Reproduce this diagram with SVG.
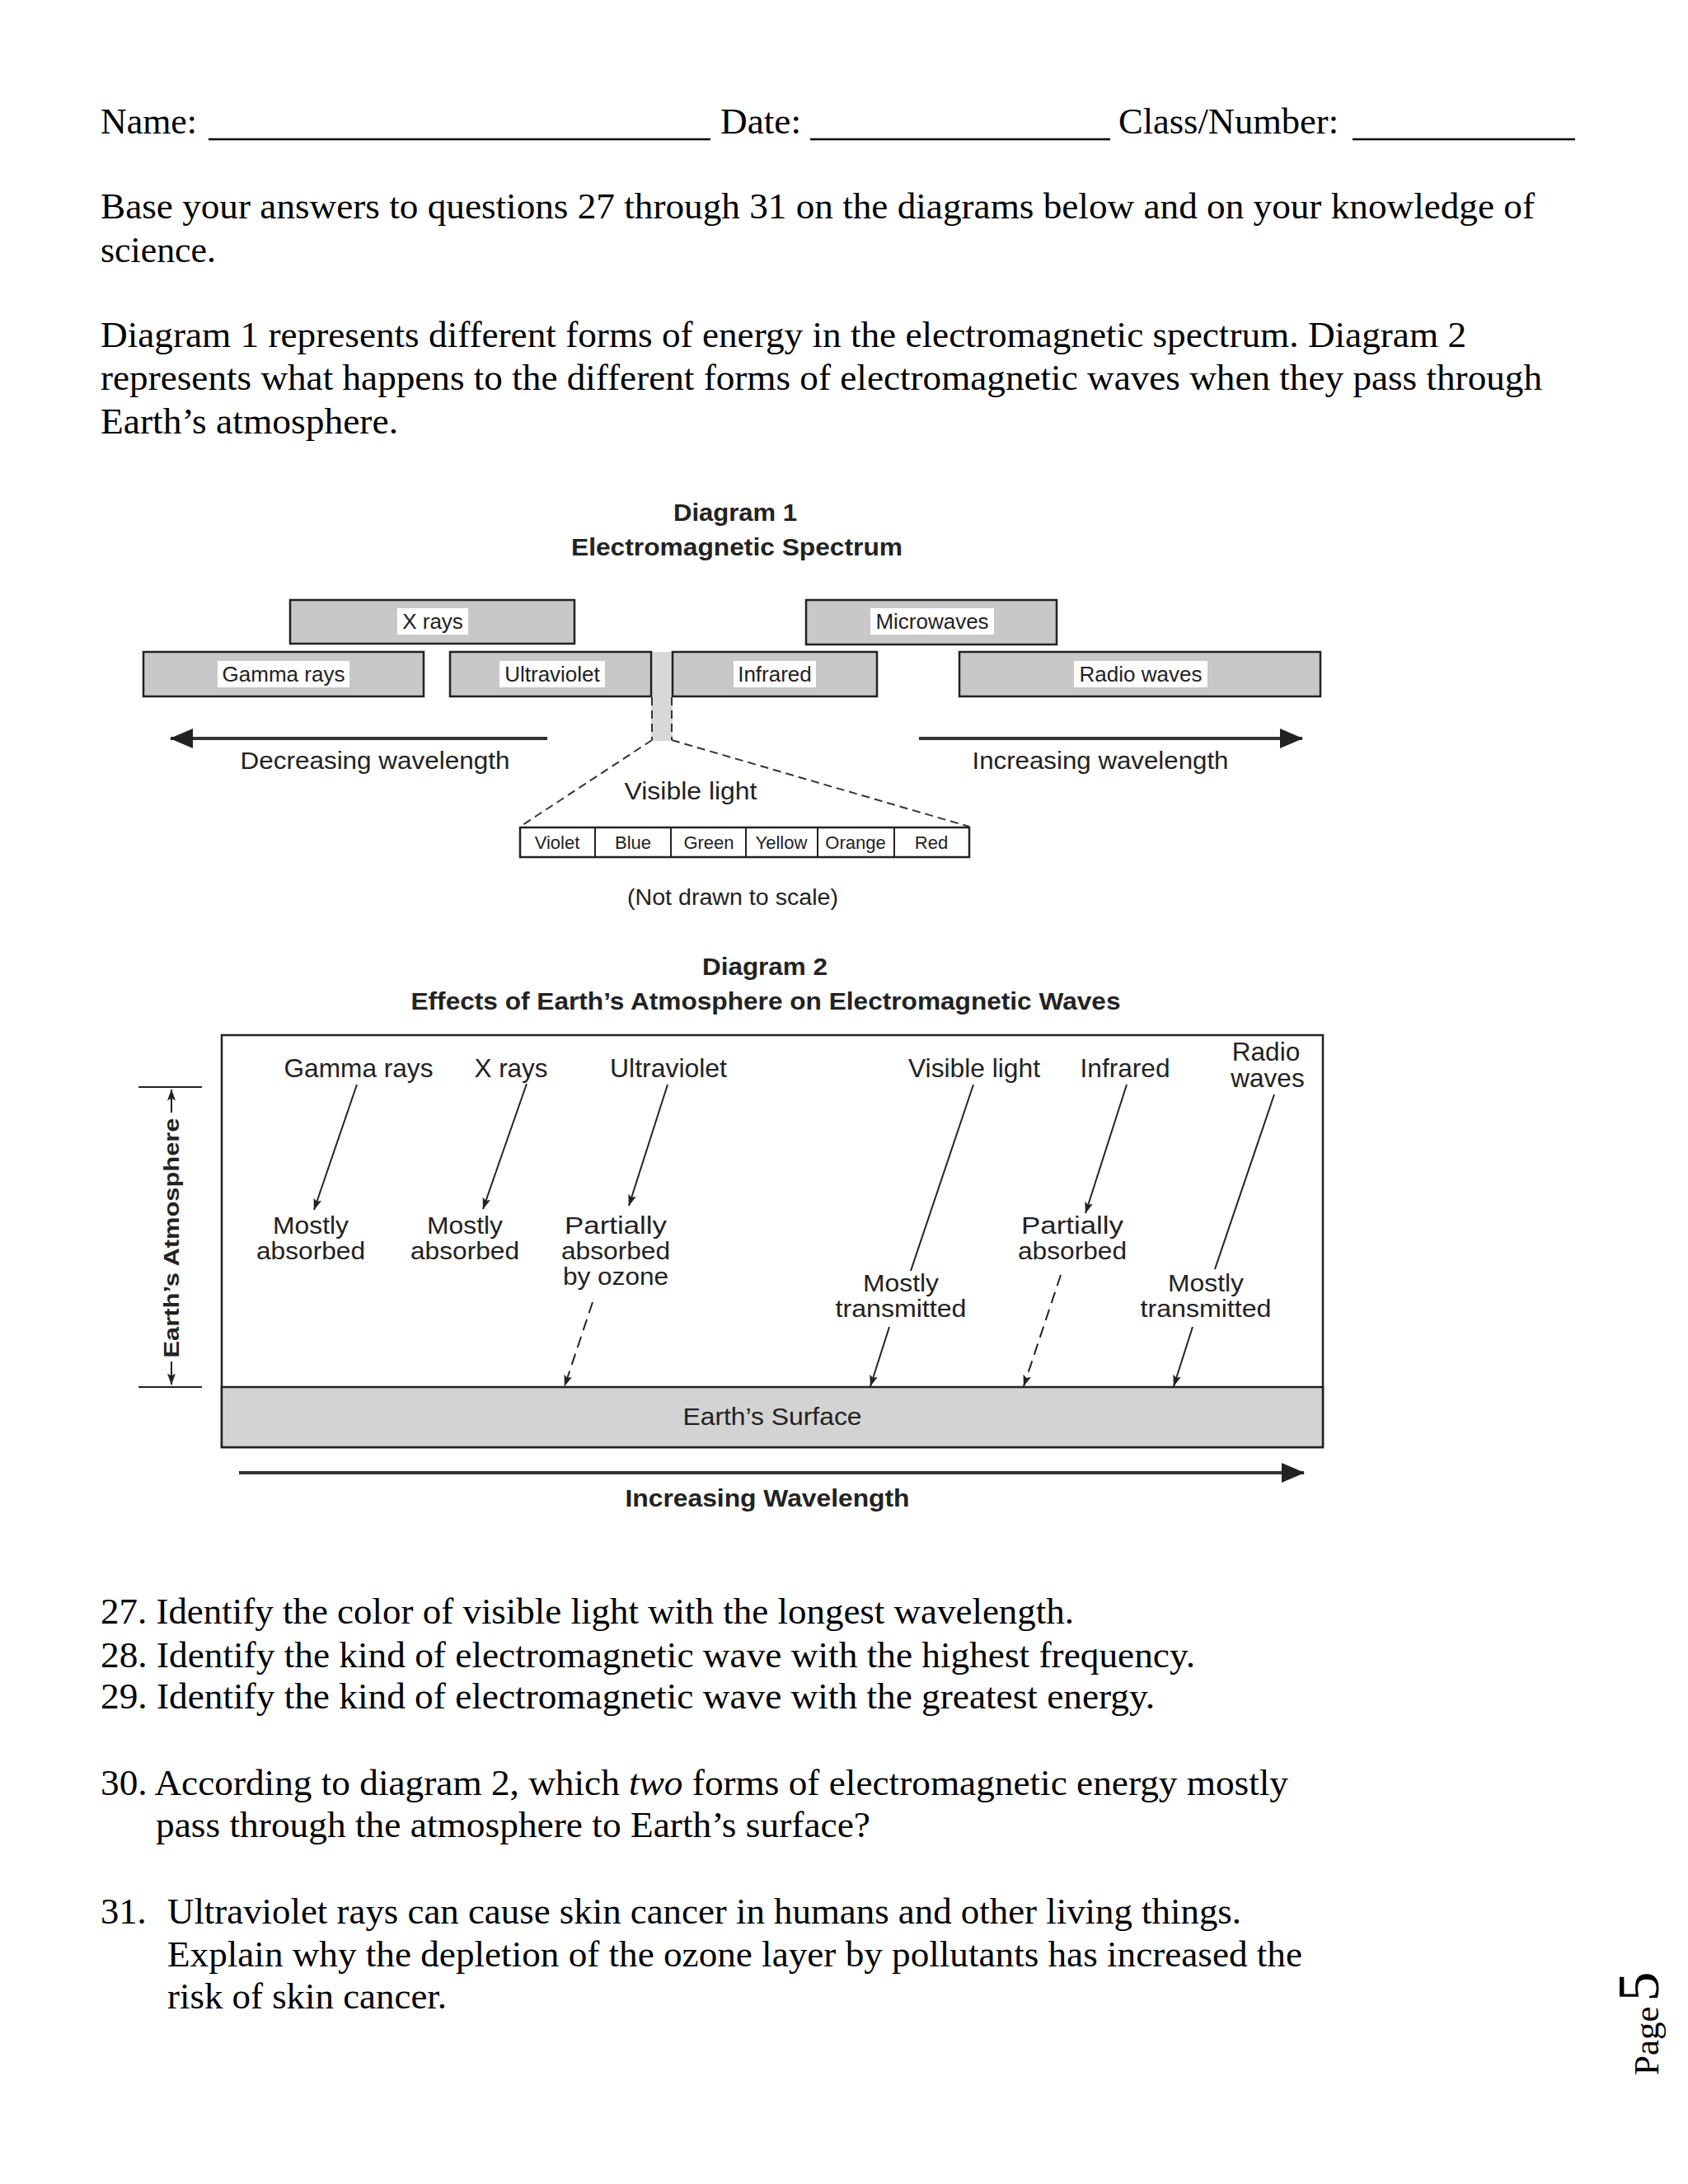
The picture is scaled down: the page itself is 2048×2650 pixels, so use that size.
<svg xmlns="http://www.w3.org/2000/svg" width="2048" height="2650" viewBox="0 0 2048 2650">
<style>
.serif{font-family:"Liberation Serif","Times New Roman",serif;font-size:44.5px;fill:#000}
.sans{font-family:"Liberation Sans",Arial,sans-serif;fill:#222}
.b{font-weight:bold}
.f26{font-size:26px}
.f22{font-size:22px}
.f27{font-size:27px}
.f30{font-size:30px}
.f31{font-size:31.5px}
.res{font-size:29px}
.mid{text-anchor:middle}
.box{fill:#c8c8c8;stroke:#222;stroke-width:2.5}
.lblbg{fill:#fff}
.uline{stroke:#000;stroke-width:2.5}
.ln{stroke:#222;stroke-width:2;fill:none}
.dash{stroke:#222;stroke-width:2;fill:none;stroke-dasharray:14 8}
.fan{stroke:#333;stroke-width:2;fill:none;stroke-dasharray:10 6}
.big{stroke:#333;stroke-width:4;fill:none}
</style>
<defs>
<marker id="bigArrow" markerUnits="userSpaceOnUse" viewBox="0 0 28 24" markerWidth="28" markerHeight="24" refX="27" refY="12" orient="auto">
<path d="M0,0 L28,12 L0,24 z" fill="#222"/>
</marker>
<marker id="smallArrow" markerUnits="userSpaceOnUse" viewBox="0 0 14 10" markerWidth="14" markerHeight="10" refX="13.5" refY="5" orient="auto">
<path d="M0,0 L14,5 L0,10 L3,5 z" fill="#222"/>
</marker>
</defs>
<rect x="0" y="0" width="2048" height="2650" fill="#fff"/>

<g id="header">
<text class="serif" x="122" y="162" textLength="117" lengthAdjust="spacingAndGlyphs">Name:</text>
<line class="uline" x1="253" y1="169" x2="862" y2="169"/>
<text class="serif" x="874" y="162" textLength="98" lengthAdjust="spacingAndGlyphs">Date:</text>
<line class="uline" x1="983" y1="169" x2="1347" y2="169"/>
<text class="serif" x="1357" y="162" textLength="267" lengthAdjust="spacingAndGlyphs">Class/Number:</text>
<line class="uline" x1="1641" y1="169" x2="1911" y2="169"/>
</g>

<g id="intro">
<text class="serif" x="122" y="265" textLength="1740" lengthAdjust="spacingAndGlyphs">Base your answers to questions 27 through 31 on the diagrams below and on your knowledge of</text>
<text class="serif" x="122" y="318" textLength="140" lengthAdjust="spacingAndGlyphs">science.</text>
<text class="serif" x="122" y="421" textLength="1657" lengthAdjust="spacingAndGlyphs">Diagram 1 represents different forms of energy in the electromagnetic spectrum. Diagram 2</text>
<text class="serif" x="122" y="473" textLength="1749" lengthAdjust="spacingAndGlyphs">represents what happens to the different forms of electromagnetic waves when they pass through</text>
<text class="serif" x="122" y="526" textLength="361" lengthAdjust="spacingAndGlyphs">Earth’s atmosphere.</text>
</g>

<g id="diagram1-title">
<text class="sans b f30 mid" x="892" y="632" textLength="150" lengthAdjust="spacingAndGlyphs">Diagram 1</text>
<text class="sans b f30 mid" x="894" y="674" textLength="402" lengthAdjust="spacingAndGlyphs">Electromagnetic Spectrum</text>
</g>

<g id="visible-strip">
<rect x="790" y="791" width="26" height="108" fill="#d8d8d8"/>
<line class="fan" x1="791" y1="846" x2="791" y2="898"/>
<line class="fan" x1="815" y1="846" x2="815" y2="898"/>
</g>

<g id="box-xrays">
<rect class="box" x="352" y="728" width="345" height="53"/>
<rect class="lblbg" x="482" y="738" width="86" height="32"/>
<text class="sans f26 mid" x="525" y="763">X rays</text>
</g>
<g id="box-microwaves">
<rect class="box" x="978" y="728" width="304" height="54"/>
<rect class="lblbg" x="1056" y="738" width="150" height="32"/>
<text class="sans f26 mid" x="1131" y="763">Microwaves</text>
</g>
<g id="box-gamma">
<rect class="box" x="174" y="791" width="340" height="54"/>
<rect class="lblbg" x="264" y="802" width="160" height="32"/>
<text class="sans f26 mid" x="344" y="827">Gamma rays</text>
</g>
<g id="box-ultraviolet">
<rect class="box" x="546" y="791" width="244" height="54"/>
<rect class="lblbg" x="606" y="802" width="128" height="32"/>
<text class="sans f26 mid" x="670" y="827">Ultraviolet</text>
</g>
<g id="box-infrared">
<rect class="box" x="816" y="791" width="248" height="54"/>
<rect class="lblbg" x="890" y="802" width="100" height="32"/>
<text class="sans f26 mid" x="940" y="827">Infrared</text>
</g>
<g id="box-radio">
<rect class="box" x="1164" y="791" width="438" height="54"/>
<rect class="lblbg" x="1303" y="802" width="162" height="32"/>
<text class="sans f26 mid" x="1384" y="827">Radio waves</text>
</g>

<g id="wavelength-labels">
<text class="sans f30 mid" x="455" y="933" textLength="327" lengthAdjust="spacingAndGlyphs">Decreasing wavelength</text>
<text class="sans f30 mid" x="1335" y="933" textLength="311" lengthAdjust="spacingAndGlyphs">Increasing wavelength</text>
<text class="sans f30 mid" x="838" y="970" textLength="161" lengthAdjust="spacingAndGlyphs">Visible light</text>
<text class="sans f27 mid" x="889" y="1098" textLength="256" lengthAdjust="spacingAndGlyphs">(Not drawn to scale)</text>
</g>

<g id="visible-colors">
<rect x="631" y="1004" width="545" height="36" fill="#fff" stroke="#222" stroke-width="2.5"/>
<line class="ln" x1="722" y1="1004" x2="722" y2="1040"/>
<line class="ln" x1="814" y1="1004" x2="814" y2="1040"/>
<line class="ln" x1="905" y1="1004" x2="905" y2="1040"/>
<line class="ln" x1="992" y1="1004" x2="992" y2="1040"/>
<line class="ln" x1="1085" y1="1004" x2="1085" y2="1040"/>
<text class="sans f22 mid" x="676" y="1030">Violet</text>
<text class="sans f22 mid" x="768" y="1030">Blue</text>
<text class="sans f22 mid" x="860" y="1030">Green</text>
<text class="sans f22 mid" x="948" y="1030">Yellow</text>
<text class="sans f22 mid" x="1038" y="1030">Orange</text>
<text class="sans f22 mid" x="1130" y="1030">Red</text>
</g>

<g id="diagram2-title">
<text class="sans b f30 mid" x="928" y="1183" textLength="152" lengthAdjust="spacingAndGlyphs">Diagram 2</text>
<text class="sans b f30 mid" x="929" y="1225" textLength="861" lengthAdjust="spacingAndGlyphs">Effects of Earth’s Atmosphere on Electromagnetic Waves</text>
</g>

<g id="atmosphere-box">
<rect x="269" y="1256" width="1336" height="500" fill="#fff" stroke="#222" stroke-width="2.5"/>
</g>
<g id="earth-surface">
<rect x="269" y="1683" width="1336" height="73" fill="#d3d3d3" stroke="#222" stroke-width="2.5"/>
<text class="sans f30 mid" x="937" y="1729" textLength="217" lengthAdjust="spacingAndGlyphs">Earth’s Surface</text>
</g>

<g id="atmosphere-scale">
<line class="ln" x1="168" y1="1319" x2="245" y2="1319" stroke-width="2.5"/>
<line class="ln" x1="168" y1="1683" x2="245" y2="1683" stroke-width="2.5"/>
<text class="sans b f26 mid" transform="translate(217,1502) rotate(-90)" x="0" y="0" textLength="291" lengthAdjust="spacingAndGlyphs">Earth’s Atmosphere</text>
</g>

<g id="wave-labels">
<text class="sans f31 mid" x="435" y="1307" textLength="181" lengthAdjust="spacingAndGlyphs">Gamma rays</text>
<text class="sans f31 mid" x="620" y="1307" textLength="89" lengthAdjust="spacingAndGlyphs">X rays</text>
<text class="sans f31 mid" x="811" y="1307" textLength="142" lengthAdjust="spacingAndGlyphs">Ultraviolet</text>
<text class="sans f31 mid" x="1182" y="1307" textLength="160" lengthAdjust="spacingAndGlyphs">Visible light</text>
<text class="sans f31 mid" x="1365" y="1307" textLength="109" lengthAdjust="spacingAndGlyphs">Infrared</text>
<text class="sans f31 mid" x="1536" y="1287">Radio</text>
<text class="sans f31 mid" x="1538" y="1319">waves</text>
</g>

<g id="result-labels">
<text class="sans res mid" x="377" y="1497" textLength="92" lengthAdjust="spacingAndGlyphs">Mostly</text>
<text class="sans res mid" x="377" y="1528" textLength="132" lengthAdjust="spacingAndGlyphs">absorbed</text>
<text class="sans res mid" x="564" y="1497" textLength="92" lengthAdjust="spacingAndGlyphs">Mostly</text>
<text class="sans res mid" x="564" y="1528" textLength="132" lengthAdjust="spacingAndGlyphs">absorbed</text>
<text class="sans res mid" x="747" y="1497" textLength="124" lengthAdjust="spacingAndGlyphs">Partially</text>
<text class="sans res mid" x="747" y="1528" textLength="132" lengthAdjust="spacingAndGlyphs">absorbed</text>
<text class="sans res mid" x="747" y="1559" textLength="128" lengthAdjust="spacingAndGlyphs">by ozone</text>
<text class="sans res mid" x="1093" y="1567" textLength="92" lengthAdjust="spacingAndGlyphs">Mostly</text>
<text class="sans res mid" x="1093" y="1598" textLength="159" lengthAdjust="spacingAndGlyphs">transmitted</text>
<text class="sans res mid" x="1301" y="1497" textLength="124" lengthAdjust="spacingAndGlyphs">Partially</text>
<text class="sans res mid" x="1301" y="1528" textLength="132" lengthAdjust="spacingAndGlyphs">absorbed</text>
<text class="sans res mid" x="1463" y="1567" textLength="92" lengthAdjust="spacingAndGlyphs">Mostly</text>
<text class="sans res mid" x="1463" y="1598" textLength="159" lengthAdjust="spacingAndGlyphs">transmitted</text>
</g>

<g id="diagram2-axis-label">
<text class="sans b f30 mid" x="931" y="1828" textLength="345" lengthAdjust="spacingAndGlyphs">Increasing Wavelength</text>
</g>

<g id="connectors">
<line class="big" x1="664" y1="896" x2="207" y2="896" stroke="#555" marker-end="url(#bigArrow)"/>
<line class="big" x1="1115" y1="896" x2="1580" y2="896" marker-end="url(#bigArrow)"/>
<line class="fan" x1="791" y1="898" x2="631" y2="1003"/>
<line class="fan" x1="815" y1="898" x2="1176" y2="1003"/>
<line class="big" x1="290" y1="1787" x2="1582" y2="1787" marker-end="url(#bigArrow)"/>
<line class="ln" x1="208" y1="1350" x2="208" y2="1322" marker-end="url(#smallArrow)"/>
<line class="ln" x1="208" y1="1652" x2="208" y2="1680" marker-end="url(#smallArrow)"/>
<line class="ln" x1="433" y1="1316" x2="381" y2="1468" marker-end="url(#smallArrow)"/>
<line class="ln" x1="639" y1="1315" x2="586" y2="1467" marker-end="url(#smallArrow)"/>
<line class="ln" x1="810" y1="1316" x2="763" y2="1463" marker-end="url(#smallArrow)"/>
<line class="dash" x1="719" y1="1580" x2="685" y2="1682" marker-end="url(#smallArrow)"/>
<line class="ln" x1="1181" y1="1316" x2="1105" y2="1542"/>
<line class="ln" x1="1079" y1="1610" x2="1056" y2="1682" marker-end="url(#smallArrow)"/>
<line class="ln" x1="1367" y1="1316" x2="1317" y2="1472" marker-end="url(#smallArrow)"/>
<line class="dash" x1="1287" y1="1547" x2="1242" y2="1682" marker-end="url(#smallArrow)"/>
<line class="ln" x1="1546" y1="1328" x2="1474" y2="1540"/>
<line class="ln" x1="1447" y1="1610" x2="1424" y2="1682" marker-end="url(#smallArrow)"/>
</g>

<g id="questions">
<text class="serif" x="122" y="1970" textLength="1181" lengthAdjust="spacingAndGlyphs">27. Identify the color of visible light with the longest wavelength.</text>
<text class="serif" x="122" y="2023" textLength="1328" lengthAdjust="spacingAndGlyphs">28. Identify the kind of electromagnetic wave with the highest frequency.</text>
<text class="serif" x="122" y="2073" textLength="1279" lengthAdjust="spacingAndGlyphs">29. Identify the kind of electromagnetic wave with the greatest energy.</text>
<text class="serif" x="122" y="2178" textLength="1441" lengthAdjust="spacingAndGlyphs">30. According to diagram 2, which <tspan font-style="italic">two</tspan> forms of electromagnetic energy mostly</text>
<text class="serif" x="189" y="2229" textLength="867" lengthAdjust="spacingAndGlyphs">pass through the atmosphere to Earth’s surface?</text>
<text class="serif" x="122" y="2334">31.</text>
<text class="serif" x="203" y="2334" textLength="1303" lengthAdjust="spacingAndGlyphs">Ultraviolet rays can cause skin cancer in humans and other living things.</text>
<text class="serif" x="203" y="2386" textLength="1377" lengthAdjust="spacingAndGlyphs">Explain why the depletion of the ozone layer by pollutants has increased the</text>
<text class="serif" x="203" y="2437" textLength="339" lengthAdjust="spacingAndGlyphs">risk of skin cancer.</text>
</g>

<g id="page-number">
<text transform="translate(2012,2518) rotate(-90)" style="font-family:'Liberation Serif','Times New Roman',serif;fill:#000"><tspan font-size="43">Page</tspan><tspan font-size="72" dx="6">5</tspan></text>
</g>
</svg>
